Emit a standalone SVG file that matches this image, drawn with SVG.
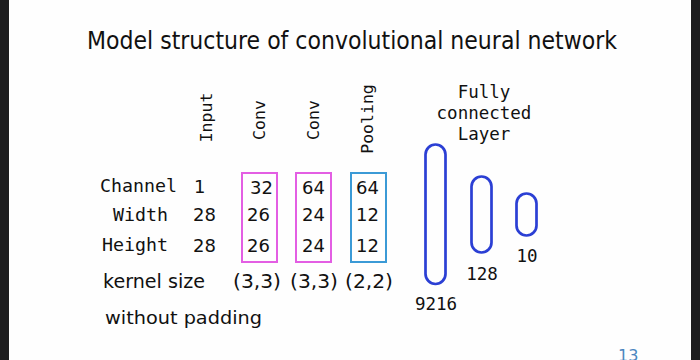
<svg xmlns="http://www.w3.org/2000/svg" width="700" height="360" viewBox="0 0 700 360">
<style>
.sans{font-family:"DejaVu Sans","Liberation Sans",sans-serif;fill:#111}
.mono{font-family:"DejaVu Sans Mono","Liberation Mono",monospace;fill:#111}
.num{font-size:18px}
.vlab{font-size:16.5px;text-anchor:middle}
.fc{fill:none;stroke:#2b3fd4;stroke-width:2.7}
.pink{fill:none;stroke:#e35ee3;stroke-width:2}
.blue{fill:none;stroke:#3b9ad6;stroke-width:2}
</style>
<rect width="700" height="360" fill="#fefefe"/>
<rect x="0" y="0" width="9" height="360" fill="#1d1d1f"/>
<rect x="691" y="0" width="9" height="360" fill="#1d1d1f"/>

<text class="sans" x="87" y="49" font-size="24.5" textLength="530" lengthAdjust="spacingAndGlyphs">Model structure of convolutional neural network</text>

<g id="layer-labels">
<text class="mono vlab" transform="translate(212,117.5) rotate(-90)">Input</text>
<text class="mono vlab" transform="translate(265,120) rotate(-90)">Conv</text>
<text class="mono vlab" transform="translate(318.5,120) rotate(-90)">Conv</text>
<text class="mono vlab" transform="translate(373,119) rotate(-90)">Pooling</text>
</g>

<g id="row-labels" class="mono" font-size="18.3">
<text class="mono" x="100" y="192">Channel</text>
<text class="mono" x="113" y="221">Width</text>
<text class="mono" x="102" y="251">Height</text>
</g>

<g id="input">
<text class="sans num" x="194" y="193">1</text>
<text class="sans num" x="193" y="221">28</text>
<text class="sans num" x="193" y="252">28</text>
</g>

<g id="conv1">
<rect class="pink" x="242" y="173" width="35" height="89"/>
<text class="sans num" x="250" y="194">32</text>
<text class="sans num" x="247" y="221">26</text>
<text class="sans num" x="247" y="252">26</text>
</g>

<g id="conv2">
<rect class="pink" x="296" y="173" width="35" height="89"/>
<text class="sans num" x="302" y="194">64</text>
<text class="sans num" x="302" y="221">24</text>
<text class="sans num" x="302" y="252">24</text>
</g>

<g id="pooling">
<rect class="blue" x="351" y="173" width="35" height="89"/>
<text class="sans num" x="356" y="194">64</text>
<text class="sans num" x="356" y="221">12</text>
<text class="sans num" x="356" y="252">12</text>
</g>

<g id="kernel">
<text class="sans" x="103" y="288" font-size="19" textLength="102" lengthAdjust="spacingAndGlyphs">kernel size</text>
<text class="sans" x="233" y="288" font-size="19" textLength="48" lengthAdjust="spacingAndGlyphs">(3,3)</text>
<text class="sans" x="290" y="288" font-size="19" textLength="48" lengthAdjust="spacingAndGlyphs">(3,3)</text>
<text class="sans" x="345" y="288" font-size="19" textLength="48" lengthAdjust="spacingAndGlyphs">(2,2)</text>
<text class="sans" x="105" y="324" font-size="18" textLength="157" lengthAdjust="spacingAndGlyphs">without padding</text>
</g>

<g id="fc-title" class="mono" font-size="17.5" text-anchor="middle">
<text class="mono" x="484" y="98">Fully</text>
<text class="mono" x="484" y="119">connected</text>
<text class="mono" x="484" y="140">Layer</text>
</g>

<g id="fc1">
<rect class="fc" x="425.5" y="144.5" width="20" height="139.5" rx="10" ry="10"/>
<text class="mono" x="436" y="310" font-size="17.5" text-anchor="middle">9216</text>
</g>
<g id="fc2">
<rect class="fc" x="471.5" y="176.5" width="20" height="76" rx="10" ry="10"/>
<text class="mono" x="482" y="280" font-size="17.5" text-anchor="middle">128</text>
</g>
<g id="fc3">
<rect class="fc" x="516.5" y="193.5" width="20" height="42" rx="10" ry="10"/>
<text class="mono" x="527" y="262" font-size="17.5" text-anchor="middle">10</text>
</g>

<g id="connectors"></g>

<text x="618" y="361" font-family="DejaVu Sans, sans-serif" font-size="16" fill="#4a86c0">13</text>
</svg>
